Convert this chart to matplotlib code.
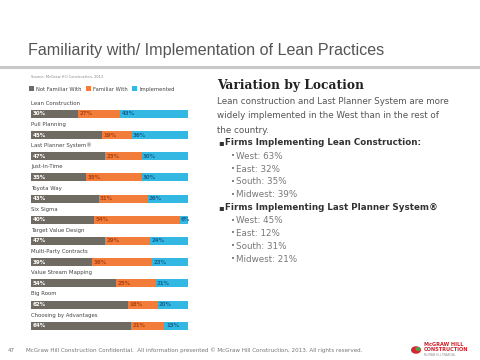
import matplotlib
matplotlib.use("Agg")
import matplotlib.pyplot as plt
from matplotlib.patches import Circle

categories = ["Lean Construction", "Pull Planning", "Last Planner System®", "Just-In-Time",
              "Toyota Way", "Six Sigma", "Target Value Design", "Multi-Party Contracts",
              "Value Stream Mapping", "Big Room", "Choosing by Advantages"]
not_familiar = [30, 45, 47, 35, 43, 40, 47, 39, 54, 62, 64]
familiar = [27, 19, 23, 35, 31, 54, 29, 38, 25, 18, 21]
implemented = [43, 36, 30, 30, 26, 6, 24, 23, 21, 20, 15]
series_names = ["Not Familiar With", "Familiar With", "Implemented"]

GRAY, ORANGE, CYAN = "#6f6b62", "#f27c3a", "#33b8e4"
LBL = ["white", "#b04515", "#17648f"]

W, H = 480, 360
fig = plt.figure(figsize=(4.8, 3.6), dpi=100)
fig.patch.set_facecolor("white")

def fx(x):
    return x / W

def fy(y):
    return 1 - y / H

# Title and rule
fig.text(fx(28), fy(50), "Familiarity with/ Implementation of Lean Practices",
         family="Liberation Sans", fontsize=11.6, color="#555555", va="center", ha="left")
fig.add_artist(plt.Line2D([0, 1], [fy(67), fy(67)], color="#c8c8c8", lw=2.2))

# Bar chart
ax = fig.add_axes([fx(31), fy(335), fx(188) - fx(31), (335 - 100) / H])
ypos = list(range(len(categories)))
h = 8 / 21.2
series = [not_familiar, familiar, implemented]
colors = [GRAY, ORANGE, CYAN]
lefts = [0] * len(categories)
for s, (vals, col, name) in enumerate(zip(series, colors, series_names)):
    ax.barh(ypos, vals, left=lefts, height=h, color=col, label=name, linewidth=0)
    for i, v in enumerate(vals):
        ax.text(lefts[i] + 1.0, i, f"{v}%", fontsize=4, fontweight="bold", color=LBL[s],
                va="center", ha="left")
    lefts = [l + v for l, v in zip(lefts, vals)]
for i, c in enumerate(categories):
    ax.text(0, i - 0.5, c, fontsize=3.9, color="#444444", va="center", ha="left")
ax.set_xlim(0, 100)
ax.set_ylim(10.434, -0.651)
ax.axis("off")

fig.text(fx(31), fy(77), "Source: McGraw Hill Construction, 2013", fontsize=2.6,
         color="#888888", va="center")
ax.legend(loc="center left", bbox_to_anchor=(fx(29), fy(89)), bbox_transform=fig.transFigure,
          ncol=3, fontsize=3.8, frameon=False, handlelength=0.9, handleheight=0.9,
          handletextpad=0.4, columnspacing=0.9, borderaxespad=0, borderpad=0,
          labelcolor="#444444")

# Right panel text
fig.text(fx(217), fy(86), "Variation by Location", family="DejaVu Serif", fontweight="bold",
         fontsize=8.8, color="#222222", va="center")
body = ["Lean construction and Last Planner System are more",
        "widely implemented in the West than in the rest of",
        "the country."]
for k, line in enumerate(body):
    fig.text(fx(217), fy(101 + 14.5 * k), line, fontsize=6.35, color="#555555", va="center")

lean_region = ["West: 63%", "East: 32%", "South: 35%", "Midwest: 39%"]
lps_region = ["West: 45%", "East: 12%", "South: 31%", "Midwest: 21%"]
heads = ["Firms Implementing Lean Construction:", "Firms Implementing Last Planner System®"]
y = 143
for head, items in zip(heads, [lean_region, lps_region]):
    fig.text(fx(218.5), fy(y), "▪", fontsize=6, color="#333333", va="center")
    fig.text(fx(225), fy(y), head, fontsize=6.3, fontweight="bold", color="#333333", va="center")
    y += 13.2
    for it in items:
        fig.text(fx(231), fy(y), "•", fontsize=5, color="#666666", va="center")
        fig.text(fx(236), fy(y), it, fontsize=6.3, color="#777777", va="center")
        y += 12.8

# Footer
fig.text(fx(8), fy(350), "47", fontsize=4.1, color="#777777", va="center")
fig.text(fx(26), fy(350),
         "McGraw Hill Construction Confidential.  All information presented \u00a9 McGraw Hill Construction, 2013. All rights reserved.",
         fontsize=4.1, color="#777777", va="center")

# Logo
fig.add_artist(Circle((fx(416), fy(350)), 5 / W, transform=fig.transFigure,
                      facecolor="#d6262f", edgecolor="none"))
fig.add_artist(Circle((fx(418), fy(349)), 2.6 / W, transform=fig.transFigure,
                      facecolor="#4aa54a", edgecolor="none"))
fig.text(fx(424), fy(347), "McGRAW HILL\nCONSTRUCTION", fontsize=3.6, color="#c8202b",
         fontweight="bold", va="center", linespacing=1.0)
fig.text(fx(424), fy(355.5), "McGRAW HILL FINANCIAL", fontsize=1.8, color="#888888", va="center")

fig.savefig("out.png", dpi=100, facecolor="white")
